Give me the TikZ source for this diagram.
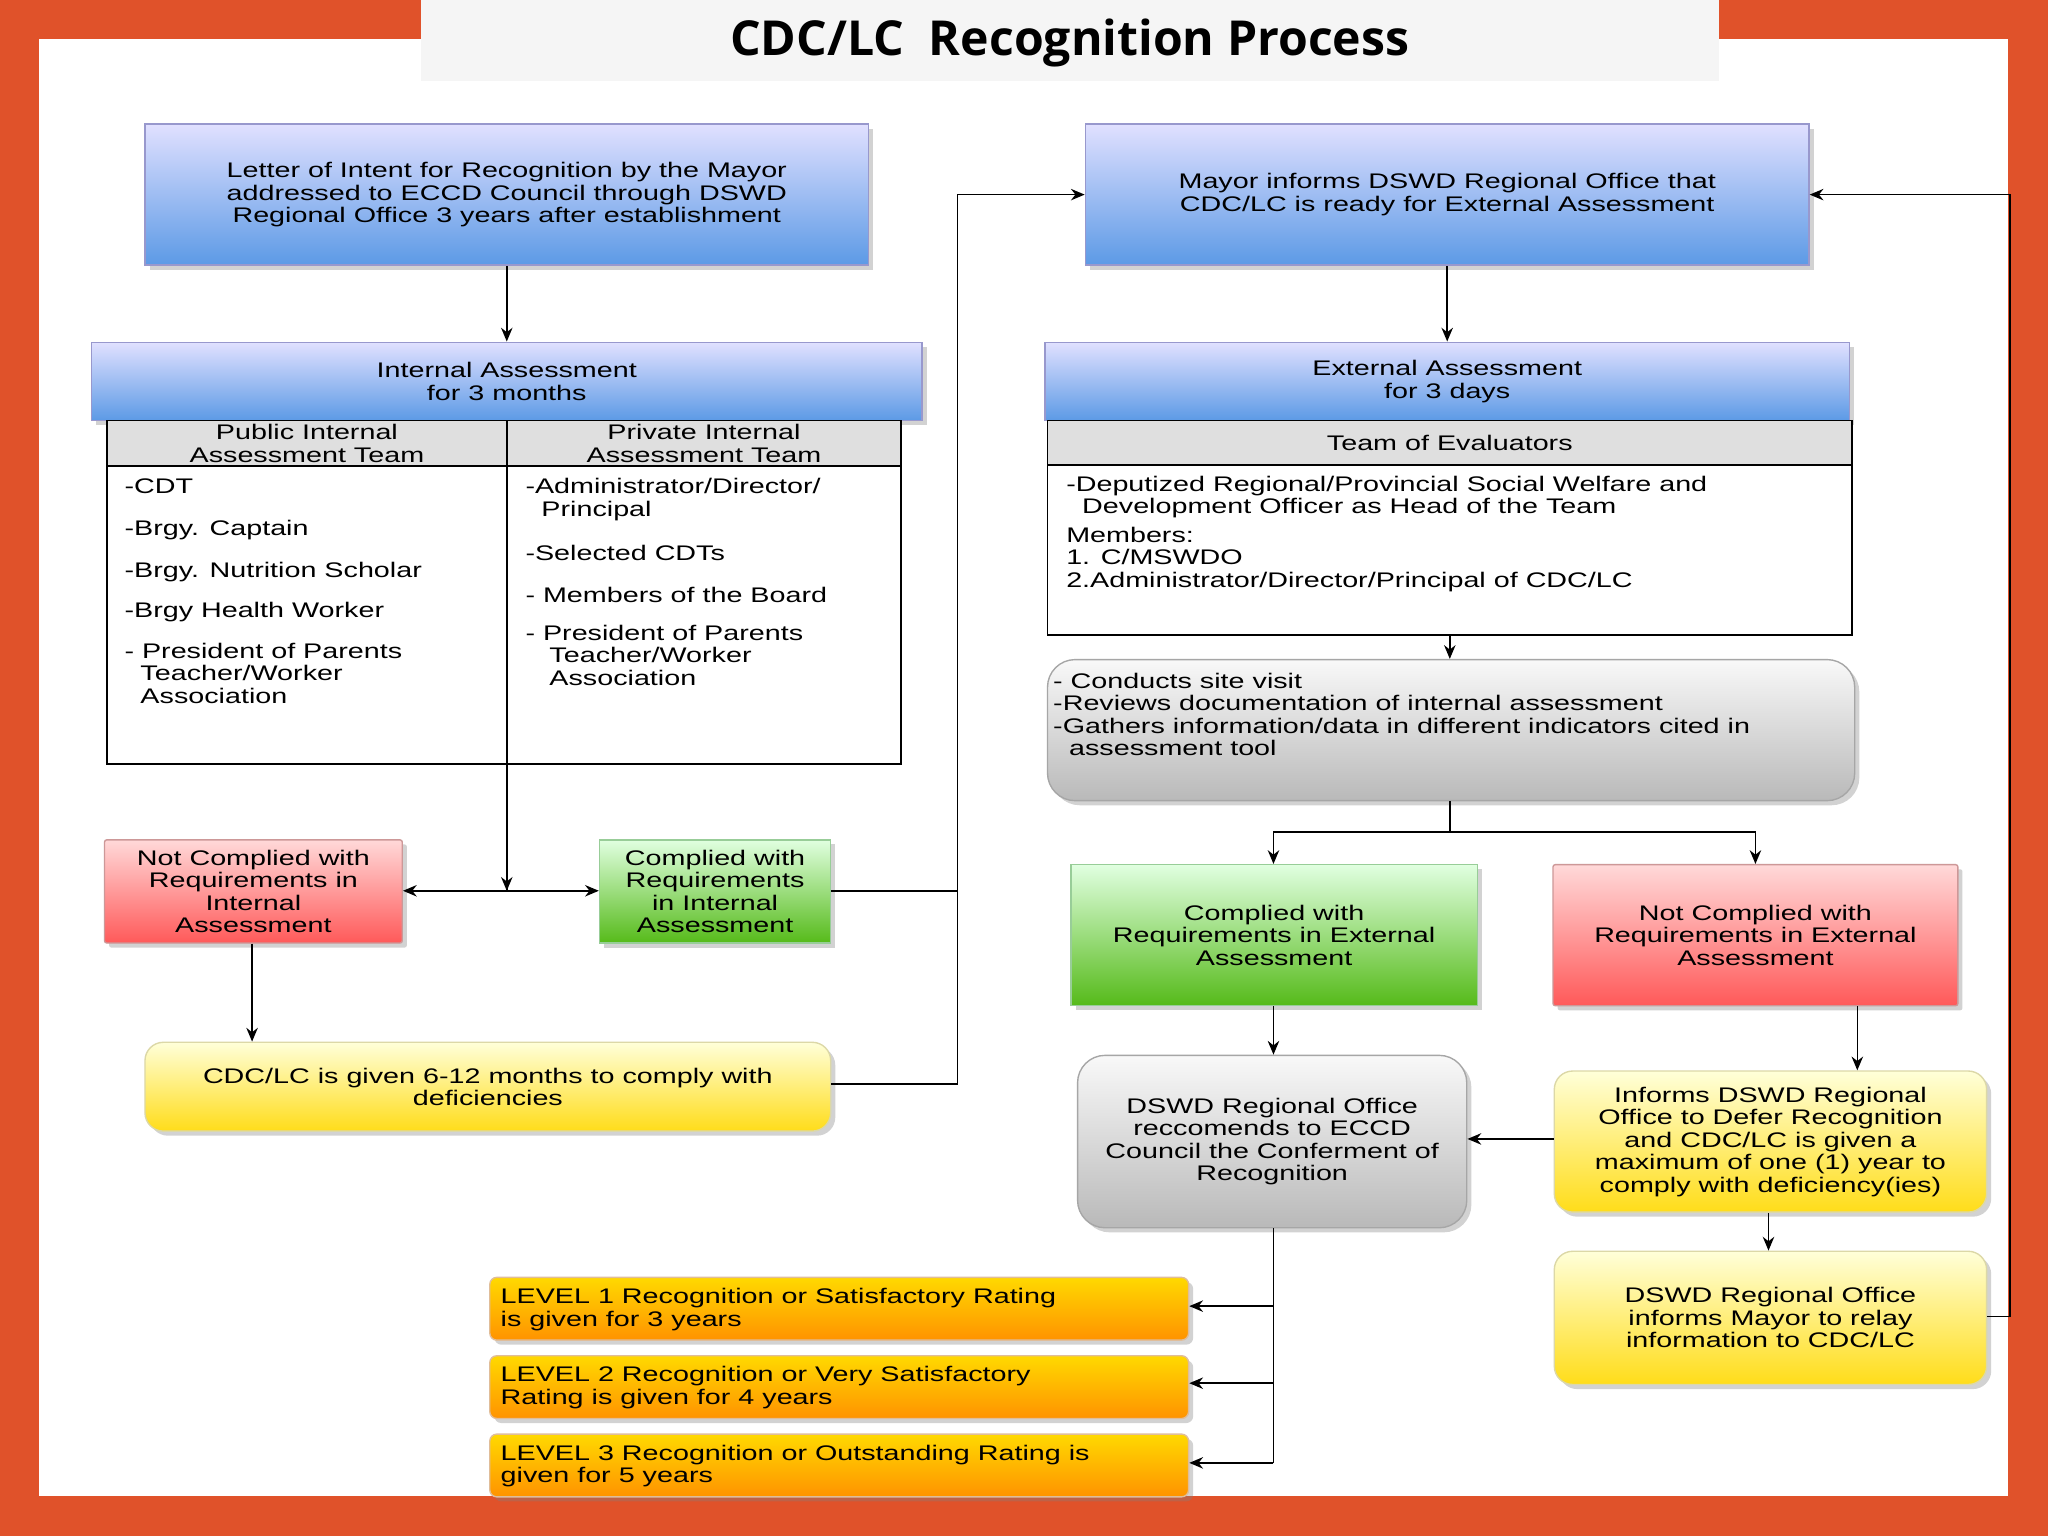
\documentclass[tikz,border=0pt]{standalone}
\usepackage{fontspec}
\setmainfont{Liberation Sans}[FakeStretch=1.36]
\newfontfamily\titlefont{Open Sans}
\usetikzlibrary{fit,shadows,arrows.meta}
\definecolor{bgorange}{HTML}{E0522A}
\tikzset{
 x=0.02cm,y=-0.02cm,
 every node/.style={font=\fontsize{9.2}{9.8}\selectfont, align=center},
 box/.style={draw=#1!35!gray!60, line width=0.6pt, inner sep=0pt, align=center, drop shadow={opacity=0.35,shadow xshift=2pt,shadow yshift=-2pt}},
 blue/.style={box=blue, top color=blue!12, bottom color=blue!55!cyan!60!white!90!black},
 red/.style={box=red, rounded corners=1pt, top color=red!15, bottom color=red!65},
 green/.style={box=green, top color=green!12, bottom color=green!50!lime!70!black!90},
 yellow/.style={box=orange, draw=yellow!60!black!40, rounded corners=8pt, top color=yellow!15, bottom color=yellow!70!orange!90},
 gray/.style={box=gray, draw=gray!70, rounded corners=12pt, top color=gray!5, bottom color=gray!55},
 level/.style={box=orange, draw=orange!70!black!40, rounded corners=3pt, top color=yellow!70!orange, bottom color=orange!85!yellow, align=left},
 arr/.style={-{Stealth[length=6pt,width=5pt]}, line width=0.7pt},
 ln/.style={line width=0.7pt},
 tbl/.style={draw, line width=0.8pt, inner sep=0pt},
 hdr/.style={draw, line width=0.8pt, fill=gray!25, inner sep=0pt, align=center},
 lt/.style={anchor=north west, align=left, inner sep=0pt},
}
\begin{document}
\begin{tikzpicture}
\fill[bgorange] (0,0) rectangle (1568,1176);
\fill[white] (30,30) rectangle (1537,1145);
\node[fill=gray!8, inner sep=0pt, fit={(322,0)(1316,62)}] (tb) {};
\node[font=\titlefont\bfseries\fontsize{21}{25}\selectfont] (title) at (819,33) {CDC/LC\ \ Recognition Process};

% left column
\node[blue, fit={(111,95)(665,203)}] (A) {};
\node at (A.center) {Letter of Intent for Recognition by the Mayor\\addressed to ECCD Council through DSWD\\Regional Office 3 years after establishment};
\node[blue, fit={(70,262)(706,322)}] (IA) {};
\node at (IA.center) {Internal Assessment\\for 3 months};
\node[tbl, fit={(82,322)(690,585)}] (IT) {};
\node[hdr, fit={(82,322)(388,357)}] (IH1) {};
\node at (IH1.center) {Public Internal\\Assessment Team};
\node[hdr, fit={(388,322)(690,357)}] (IH2) {};
\node at (IH2.center) {Private Internal\\Assessment Team};
\draw[line width=0.8pt] (388,357) -- (388,585);
\node[lt] (l1) at (95,366) {-CDT};
\node[lt] (l2) at (95,398) {-Brgy. Captain};
\node[lt] (l3) at (95,430) {-Brgy. Nutrition Scholar};
\node[lt] (l4) at (95,461) {-Brgy Health Worker};
\node[lt] (l5) at (95,492) {- President of Parents\\\ \ Teacher/Worker\\\ \ Association};
\node[lt] (r1) at (402,366) {-Administrator/Director/\\\ \ Principal};
\node[lt] (r2) at (402,417) {-Selected CDTs};
\node[lt] (r3) at (402,449) {- Members of the Board};
\node[lt] (r4) at (402,478) {- President of Parents\\\ \ \ Teacher/Worker\\\ \ \ Association};
\coordinate (J) at (388,682);
\node[red, fit={(80,643)(308,722)}] (NC) {};
\node at (NC.center) {Not Complied with\\Requirements in\\Internal\\Assessment};
\node[green, fit={(459,643)(636,722)}] (C) {};
\node at (C.center) {Complied with\\Requirements\\in Internal\\Assessment};
\node[yellow, fit={(111,798)(636,866)}] (Y1) {};
\node at (Y1.center) {CDC/LC is given 6-12 months to comply with\\deficiencies};

% right column
\node[blue, fit={(831,95)(1385,203)}] (M) {};
\node at (M.center) {Mayor informs DSWD Regional Office that\\CDC/LC is ready for External Assessment};
\node[blue, fit={(800,262)(1416,322)}] (EA) {};
\node at (EA.center) {External Assessment\\for 3 days};
\node[tbl, fit={(802,322)(1418,486)}] (ET) {};
\node[hdr, fit={(802,322)(1418,356)}] (EH) {};
\node at (EH.center) {Team of Evaluators};
\node[lt] (e1) at (816,364) {-Deputized Regional/Provincial Social Welfare and\\\ \ Development Officer as Head of the Team};
\node[lt] (e2) at (816,403) {Members:\\1. C/MSWDO\\2.Administrator/Director/Principal of CDC/LC};
\node[gray, fit={(802,505)(1420,613)}] (G) {};
\node[lt] (gt) at (806,515) {- Conducts site visit\\-Reviews documentation of internal assessment\\-Gathers information/data in different indicators cited in\\\ \ assessment tool};
\node[green, fit={(820,662)(1131,770)}] (CE) {};
\node at (CE.center) {Complied with\\Requirements in External\\Assessment};
\node[red, fit={(1189,662)(1499,770)}] (NE) {};
\node at (NE.center) {Not Complied with\\Requirements in External\\Assessment};
\node[gray, fit={(825,808)(1123,940)}] (D) {};
\node at (D.center) {DSWD Regional Office\\reccomends to ECCD\\Council the Conferment of\\Recognition};
\node[yellow, fit={(1190,820)(1521,928)}] (IF) {};
\node at (IF.center) {Informs DSWD Regional\\Office to Defer Recognition\\and CDC/LC is given a\\maximum of one (1) year to\\comply with deficiency(ies)};
\node[yellow, fit={(1190,958)(1521,1060)}] (DM) {};
\node at (DM.center) {DSWD Regional Office\\informs Mayor to relay\\information to CDC/LC};
\node[level, fit={(375,978)(910,1026)}] (L1) {};
\node[lt] at (383,986) {LEVEL 1 Recognition or Satisfactory Rating\\is given for 3 years};
\node[level, fit={(375,1038)(910,1086)}] (L2) {};
\node[lt] at (383,1046) {LEVEL 2 Recognition or Very Satisfactory\\Rating is given for 4 years};
\node[level, fit={(375,1098)(910,1146)}] (L3) {};
\node[lt] at (383,1106) {LEVEL 3 Recognition or Outstanding Rating is\\given for 5 years};

% connectors
\draw[arr] (A.south -| 388,0) -- (IA.north -| 388,0);
\draw[ln] (388,585) -- (J);
\draw[arr] (388,600) -- (J);
\draw[arr] (J) -- (NC.east |- J);
\draw[arr] (J) -- (C.west |- J);
\draw[arr] (NC.south -| 193,0) -- (Y1.north -| 193,0);
\coordinate (K1) at (733,682);
\coordinate (K2) at (733,149);
\draw[ln] (C.east |- K1) -- (K1);
\draw[ln] (Y1.east |- 0,830) -- (733,830) -- (K1);
\draw[arr] (K1) -- (K2) -- (M.west |- K2);
\draw[arr] (M.south -| 1108,0) -- (EA.north -| 1108,0);
\draw[arr] (ET.south -| 1110,0) -- (G.north -| 1110,0);
\coordinate (S) at (1110,637);
\draw[ln] (G.south -| S) -- (S);
\draw[arr] (S) -- (975,637) -- (CE.north -| 975,0);
\draw[arr] (S) -- (1344,637) -- (NE.north -| 1344,0);
\draw[arr] (CE.south -| 975,0) -- (D.north -| 975,0);
\draw[arr] (NE.south -| 1422,0) -- (IF.north -| 1422,0);
\draw[arr] (IF.west |- 0,872) -- (D.east |- 0,872);
\draw[arr] (IF.south -| 1354,0) -- (DM.north -| 1354,0);
\coordinate (R1) at (1539,1008);
\coordinate (R2) at (1539,149);
\draw[arr] (DM.east |- R1) -- (R1) -- (R2) -- (M.east |- R2);
\coordinate (B3) at (975,1120);
\draw[ln] (D.south -| 975,0) -- (B3);
\draw[arr] (975,1000) -- (L1.east |- 0,1000);
\draw[arr] (975,1059) -- (L2.east |- 0,1059);
\draw[arr] (B3) -- (L3.east |- B3);
\end{tikzpicture}
\end{document}
